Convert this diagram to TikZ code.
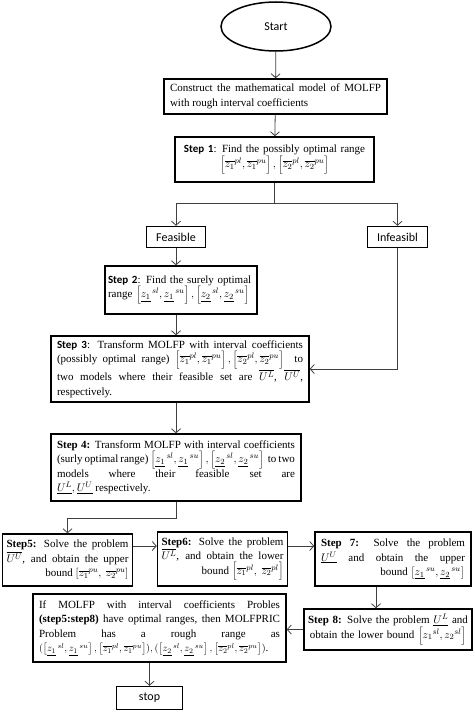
\documentclass[tikz,border=0pt]{standalone}
\usepackage{fontspec}
\setmainfont{Liberation Serif}
\setsansfont{Carlito}
\usetikzlibrary{shapes.geometric,arrows.meta}

\newcommand{\ob}[2]{\overline{z_{#1}}^{#2}}
\newcommand{\ub}[2]{\underline{z_{#1}}^{\,#2}}

\tikzset{
  box/.style={draw, line width=1.5pt, inner xsep=6pt, inner ysep=2pt, align=justify, font=\fontsize{11}{14.5}\selectfont},
  tag/.style={draw, line width=1.5pt, inner sep=2pt, font=\sffamily\fontsize{12}{14}\selectfont},
  link/.style={->, line width=0.8pt, black!75},
}

\begin{document}
\begin{tikzpicture}[x=1pt,y=-1pt,>={Straight Barb[length=4pt,width=9pt]}]
	\useasboundingbox (0,0) rectangle (474,712);

	\node[ellipse, draw, line width=1.5pt, minimum width=110pt, minimum height=49pt, font=\sffamily\fontsize{12}{14}\selectfont] (start) at (276,26.5) {Start};
	\node[box, text width=211pt, minimum height=35pt] (model) at (275.5,96.5) {Construct the mathematical model of MOLFP with rough interval coefficients};
	\node[box, align=center, text width=187pt, minimum height=45pt] (step1) at (274.5,159.5) {{\sffamily\bfseries Step 1}: Find the possibly optimal range\\ $\left[\ob1{pl},\ob1{pu}\right],\left[\ob2{pl},\ob2{pu}\right]$};

	\node[tag, minimum width=59pt, minimum height=21pt] (feas) at (176,237) {Feasible};
	\node[tag, minimum width=60pt, minimum height=21pt] (infeas) at (397.5,237) {Infeasibl};

	\node[box, align=left, inner xsep=3pt, text width=146pt, minimum height=48pt] (step2) at (181,290) {{\sffamily\bfseries Step 2}: Find the surely optimal\\ range $\left[\ub1{sl},\ub1{su}\right],\left[\ub2{sl},\ub2{su}\right]$};
	\node[box, text width=246pt, minimum height=66pt] (step3) at (180,369) {{\sffamily\bfseries Step 3}: Transform MOLFP with interval coefficients\linebreak (possibly optimal range) $\left[\ob1{pl},\ob1{pu}\right],\left[\ob2{pl},\ob2{pu}\right]$ \ to\linebreak two models where their feasible set are $\overline{U^L}$, $\overline{U^U}$,\linebreak respectively.};
	\node[box, text width=238pt, minimum height=67pt] (step4) at (176,467.5) {\textbf{Step 4:} Transform MOLFP with interval coefficients\linebreak (surly optimal range) $\left[\ub1{sl},\ub1{su}\right],\left[\ub2{sl},\ub2{su}\right]$ \ to two\linebreak models where their feasible set are\linebreak $\underline{U^L},\underline{U^U}$ respectively.};

	\node[box, inner xsep=4pt, text width=122pt, minimum height=52pt] (step5) at (67.5,560) {\textbf{Step5:} Solve the problem\linebreak $\overline{U^U}$, and obtain the upper\linebreak\hspace*{\fill}bound $\left[\ob1{pu},\ \ob2{pu}\right]$};
	\node[box, inner xsep=4pt, text width=122pt, minimum height=54pt] (step6) at (222.5,559) {\textbf{Step6:} Solve the problem\linebreak $\overline{U^L}$, and obtain the lower\linebreak\hspace*{\fill}bound $\left[\ob1{pl},\ \ob2{pl}\right]$};
	\node[box, text width=144pt, minimum height=54pt] (step7) at (393,559) {\textbf{Step 7:} Solve the problem\linebreak $\underline{U^U}$ and obtain the upper\linebreak\hspace*{\fill}bound $\left[\ub1{su},\ub2{su}\right]$};
	\node[box, align=center, inner xsep=3pt, text width=162pt, minimum height=41pt] (step8) at (388,629.5) {\textbf{Step 8:} Solve the problem $\underline{U^L}$ and\\ obtain the lower bound $\left[z_1{}^{sl},z_2{}^{sl}\right]$};
	\node[box, text width=241pt, minimum height=68pt] (final) at (159.5,628) {If MOLFP with interval coefficients Probles\linebreak \textbf{(step5:step8)} have optimal ranges, then MOLFPRIC\linebreak Problem has a rough range as\linebreak {\fontsize{10}{13}\selectfont$(\left[\ub1{sl},\ub1{su}\right],\left[\ob1{pl},\ob1{pu}\right]),(\left[\ub2{sl},\ub2{su}\right],\left[\ob2{pl},\ob2{pu}\right])$}.};
	\node[tag, minimum width=66pt, minimum height=23pt] (stop) at (149.5,698) {stop};

	\draw[link] (start) -- (model);
	\draw[link] (model) -- (step1);
	\draw[line width=0.8pt, black!75] (step1.south) -- ++(0,21) coordinate (fork);
	\draw[link] (fork) -| (feas.north);
	\draw[link] (fork) -| (infeas.north);
	\draw[link] (feas.south) -- (feas.south |- step2.north);
	\draw[link] (step2.south -| feas.south) -- (feas.south |- step3.north);
	\draw[link] (infeas.south) |- (step3.east);
	\draw[link] (step3.south -| feas.south) -- (feas.south |- step4.north);
	\draw[link] (step4.south -| feas.south) -- ++(0,17) -| (step5.north);
	\draw[link] ([yshift=14pt]step5.east) -- ([yshift=14pt]step5.east -| step6.west);
	\draw[link] ([yshift=13pt]step6.east) -- ([yshift=13pt]step6.east -| step7.west);
	\draw[link] ([xshift=-17pt]step7.south) -- ([xshift=-17pt]step7.south |- step8.north);
	\draw[link] (step8.west) -- (step8.west -| final.east);
	\draw[link] (stop.north |- final.south) -- (stop.north);
\end{tikzpicture}
\end{document}
